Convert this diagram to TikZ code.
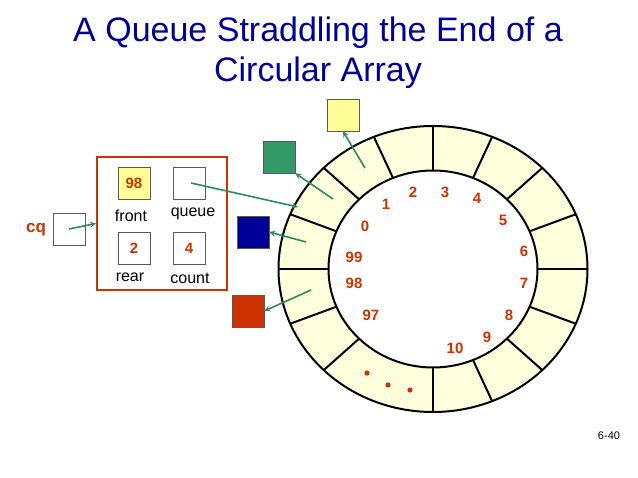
\documentclass[tikz,border=0pt]{standalone}
\usepackage{fontspec}
\setmainfont{Liberation Sans}
\definecolor{ttl}{RGB}{0,0,153}
\definecolor{lbl}{RGB}{204,51,0}
\definecolor{ring}{RGB}{255,255,221}
\definecolor{pale}{RGB}{255,255,153}
\definecolor{arr}{RGB}{46,139,87}
\definecolor{grn}{RGB}{51,153,102}
\definecolor{blu}{RGB}{0,0,153}
\definecolor{red2}{RGB}{204,51,0}
\begin{document}
\begin{tikzpicture}[x=1pt,y=-1pt,
  cell/.style={draw=gray!70!black,line width=0.6pt,minimum size=32pt,inner sep=0pt},
  num/.style={text=lbl,font=\bfseries\fontsize{15}{15}\selectfont},
  word/.style={font=\fontsize{16}{16}\selectfont},
  ptr/.style={draw=arr,line width=1.6pt,-stealth}]
\useasboundingbox (0,0) rectangle (638,478);
\node[text=ttl,font=\fontsize{34}{40}\selectfont,align=center] (title) at (318,53) {A Queue Straddling the End of a\\Circular Array};
% ring
\fill[ring,draw=black,line width=2pt] (433,269) ellipse [x radius=154.5,y radius=143];
\fill[white,draw=black,line width=2pt] (433,269) ellipse [x radius=104.5,y radius=98.5];
\foreach \a in {0,22.5,...,337.5}{
  \ifdim\a pt=247.5pt\else
  \draw[line width=2pt] ({433+104.5*cos(\a)},{269-98.5*sin(\a)}) -- ({433+154.5*cos(\a)},{269-143*sin(\a)});
  \fi}
% indices
\foreach \t/\x/\y in {0/365/226,1/386/204,2/413/192,3/445/192,4/477/198,5/503/220,6/524/251,7/524/283,8/509/315,9/487/337,10/455/348,97/371/315,98/354/283,99/354/257}
  \node[num] (i\t) at (\x,\y) {\t};
\foreach \x/\y [count=\k] in {367/373,388/385,410/390}
  \fill[lbl] (\x,\y) circle (2.6) coordinate (dot\k);
% element squares
\node[cell,fill=pale] (ey) at (343,115) {};
\node[cell,fill=grn] (eg) at (279,157) {};
\node[cell,fill=blu] (eb) at (253,232) {};
\node[cell,fill=red2] (er) at (248,311) {};
\coordinate (sy) at (365,168); \coordinate (sg) at (333,199);
\coordinate (sb) at (306,242); \coordinate (sr) at (311,290);
\coordinate (qend) at (298,207);
\draw[ptr] (sy) -- (ey.south);
\draw[ptr] (sg) -- (eg.south east);
\draw[ptr] (sb) -- (eb.east);
\draw[ptr] (sr) -- (er.east);
% struct
\node[draw=lbl,line width=2pt,minimum width=130pt,minimum height=133pt,inner sep=0pt] (st) at (162,223.5) {};
\node[cell,fill=pale,num] (front) at (134,183) {98};
\node[cell] (queue) at (189,183) {};
\node[cell,num] (rear) at (134,248) {2};
\node[cell,num] (count) at (189,248) {4};
\node[word] (lf) at (131,216) {front};
\node[word] (lq) at (193,214) {queue};
\node[word] (lr) at (130,277) {rear};
\node[word] (lc) at (190,278) {count};
\node[cell] (cq) at (69,229) {};
\node[num,font=\bfseries\fontsize{17}{17}\selectfont] (cql) at (36,230) {cq};
\draw[ptr] (cq.center) -- (st.west);
\draw[ptr] ([xshift=2pt]queue.center) -- (qend);
\node[font=\fontsize{11}{11}\selectfont] (pg) at (609,436) {6-40};
\end{tikzpicture}
\end{document}
